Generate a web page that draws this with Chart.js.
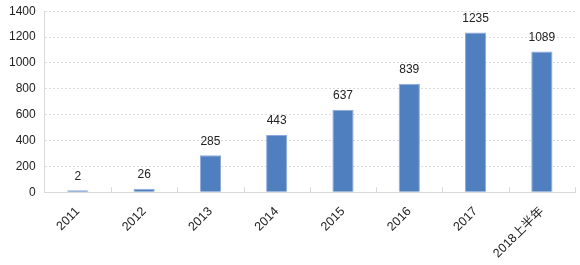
<!DOCTYPE html>
<html lang="zh">
<head>
    <meta charset="UTF-8">
    <script src="https://cdn.jsdelivr.net/npm/chart.js@4/dist/chart.umd.min.js"></script>
    <title>Chart</title>
    <style>
        body { margin: 0; background: #fff; overflow: hidden; }
        #wrap { width: 580px; height: 270px; margin-top: -5px; }
    </style>
</head>
<body>
<div id="wrap"><canvas id="myChart"></canvas></div>
<script>
var years = ['2011', '2012', '2013', '2014', '2015', '2016', '2017', '2018上半年'];
var counts = [2, 26, 285, 443, 637, 839, 1235, 1089];
var yTicks = [0, 200, 400, 600, 800, 1000, 1200, 1400];

var fontFamily = '"Liberation Sans", Arial, "Noto Sans CJK SC", sans-serif';

// numbers above bars
var valueLabels = {
    id: 'valueLabels',
    afterDatasetsDraw: function(chart) {
        var ctx = chart.ctx;
        var meta = chart.getDatasetMeta(0);
        ctx.save();
        ctx.fillStyle = '#222';
        ctx.font = '12px ' + fontFamily;
        ctx.textAlign = 'center';
        ctx.textBaseline = 'bottom';
        meta.data.forEach(function(bar, i) {
            ctx.fillText(counts[i], bar.x, bar.y - 8);
        });
        ctx.restore();
    }
};

// short tick marks pointing up from the x axis, between categories
var innerTicks = {
    id: 'innerTicks',
    afterDraw: function(chart) {
        var x = chart.scales.x;
        var ctx = chart.ctx;
        ctx.save();
        ctx.strokeStyle = '#d9d9d9';
        ctx.lineWidth = 1;
        for (var i = 1; i <= years.length; i++) {
            var px = Math.round(x.getPixelForValue(i - 0.5)) + 0.5;
            ctx.beginPath();
            ctx.moveTo(px, x.top);
            ctx.lineTo(px, x.top - 5);
            ctx.stroke();
        }
        ctx.restore();
    }
};

var ctx = document.getElementById('myChart').getContext('2d');
var chart = new Chart(ctx, {
    type: 'bar',
    data: {
        labels: years,
        datasets: [{
            data: counts,
            backgroundColor: '#4f7fbe',
            borderColor: '#8eaadb',
            borderWidth: 1,
            minBarLength: 2,
            barPercentage: 0.64,
            categoryPercentage: 0.5
        }]
    },
    options: {
        responsive: true,
        maintainAspectRatio: false,
        animation: false,
        layout: { padding: { top: 0, right: 5, left: 0, bottom: 0 } },
        plugins: {
            legend: { display: false },
            tooltip: { enabled: false }
        },
        scales: {
            x: {
                grid: { display: false },
                border: { color: '#d9d9d9' },
                ticks: {
                    color: '#222',
                    font: { size: 12.5, family: fontFamily },
                    minRotation: 45,
                    maxRotation: 45,
                    padding: 4
                }
            },
            y: {
                min: 0,
                max: 1400,
                afterBuildTicks: function(scale) {
                    scale.ticks = yTicks.map(function(v) { return { value: v }; });
                },
                grid: {
                    color: '#dcdcdc',
                    drawTicks: false
                },
                border: { color: '#d9d9d9', dash: [2, 2] },
                ticks: {
                    color: '#222',
                    font: { size: 12, family: fontFamily },
                    padding: 9,
                    callback: function(v) { return String(v); }
                }
            }
        }
    },
    plugins: [valueLabels, innerTicks]
});
</script>
</body>
</html>
